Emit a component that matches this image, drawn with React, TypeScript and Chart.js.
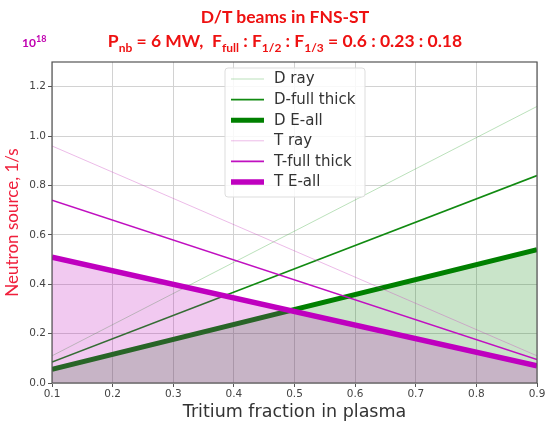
import { useEffect, useRef } from 'react';
import { Chart, registerables, type Plugin } from 'chart.js';

Chart.register(...registerables);

// tritium fraction at both ends of the scan (lines are straight)
const tFraction = [0.1, 0.9];
const dRay = [0.11, 1.12];
const dFullThick = [0.085, 0.84];
const dEAll = [0.055, 0.54];
const tRay = [0.96, 0.11];
const tFullThick = [0.74, 0.095];
const tEAll = [0.51, 0.07];

const xTicks = [0.1, 0.2, 0.3, 0.4, 0.5, 0.6, 0.7, 0.8, 0.9];
const yTicks = [0, 0.2, 0.4, 0.6, 0.8, 1.0, 1.2];

const pts = (ys: number[]) => ys.map((y, i) => ({ x: tFraction[i], y }));

const frameAndLegend: Plugin = {
  id: 'frameAndLegend',
  afterDraw(chart) {
    const { ctx, chartArea: a } = chart;
    ctx.save();
    ctx.strokeStyle = '#555555';
    ctx.lineWidth = 1.2;
    ctx.strokeRect(a.left, a.top, a.right - a.left, a.bottom - a.top);

    // legend box, like matplotlib's upper center
    const boxW = 140, rowH = 20.6, boxH = 129;
    const bx = a.left + (a.right - a.left) / 2 - boxW / 2 + 0.5;
    const by = a.top + 6;
    ctx.fillStyle = 'rgba(255,255,255,0.85)';
    ctx.strokeStyle = '#dddddd';
    ctx.lineWidth = 1;
    ctx.beginPath();
    ctx.roundRect(bx, by, boxW, boxH, 3);
    ctx.fill();
    ctx.stroke();
    ctx.font = '15px "DejaVu Sans"';
    ctx.textBaseline = 'middle';
    chart.data.datasets.forEach((ds: any, i) => {
      const y = by + 11 + i * rowH;
      ctx.strokeStyle = ds.borderColor;
      ctx.lineWidth = ds.borderWidth;
      ctx.beginPath();
      ctx.moveTo(bx + 6, y);
      ctx.lineTo(bx + 39, y);
      ctx.stroke();
      ctx.fillStyle = '#333333';
      ctx.fillText(ds.label, bx + 49, y + 0.5);
    });
    ctx.restore();
  },
};

export default function App() {
  const canvas = useRef<HTMLCanvasElement>(null);
  useEffect(() => {
    document.body.style.margin = '0';
    if (!canvas.current) return;
    const tickFont = { family: '"DejaVu Sans"', size: 10.5 };
    const chart = new Chart(canvas.current, {
      type: 'line',
      data: {
        datasets: [
          { label: 'D ray', data: pts(dRay), borderColor: 'rgba(60,170,60,0.35)', borderWidth: 1, order: 1 },
          { label: 'D-full thick', data: pts(dFullThick), borderColor: '#118a11', borderWidth: 1.6, order: 1 },
          {
            label: 'D E-all', data: pts(dEAll), borderColor: '#008000', borderWidth: 5, order: 1,
            fill: 'origin', backgroundColor: 'rgba(0,128,0,0.21)',
          },
          { label: 'T ray', data: pts(tRay), borderColor: 'rgba(200,60,190,0.35)', borderWidth: 1, order: 0 },
          { label: 'T-full thick', data: pts(tFullThick), borderColor: '#c010c0', borderWidth: 1.6, order: 0 },
          {
            label: 'T E-all', data: pts(tEAll), borderColor: '#bf00bf', borderWidth: 5.5, order: 0,
            fill: 'origin', backgroundColor: 'rgba(191,0,185,0.21)',
          },
        ],
      },
      options: {
        animation: false,
        responsive: false,
        elements: { point: { radius: 0 } },
        layout: { padding: { top: 62, right: 13, left: 0, bottom: 0 } },
        plugins: { legend: { display: false }, tooltip: { enabled: false } },
        scales: {
          x: {
            type: 'linear', min: 0.1, max: 0.9,
            afterFit: (s) => { s.height = 40; },
            afterBuildTicks: (s) => { s.ticks = xTicks.map((v) => ({ value: v })); },
            grid: { color: '#d2d2d2', tickColor: '#555555', tickLength: 4 },
            border: { display: false },
            ticks: { font: tickFont, color: '#444444', padding: 1, maxRotation: 0, callback: (v) => Number(v).toFixed(1) },
            title: {
              display: true, text: 'Tritium fraction in plasma', color: '#333333',
              font: { family: '"DejaVu Sans"', size: 17.5 }, padding: { top: 0, bottom: 0 },
            },
          },
          y: {
            type: 'linear', min: 0, max: 1.3,
            afterFit: (s) => { s.width = 52; },
            afterBuildTicks: (s) => { s.ticks = yTicks.map((v) => ({ value: v })); },
            grid: { color: '#d2d2d2', tickColor: '#555555', tickLength: 4 },
            border: { display: false },
            ticks: { font: tickFont, color: '#444444', padding: 2, callback: (v) => Number(v).toFixed(1) },
            title: {
              display: true, text: 'Neutron source, 1/s', color: '#f0203c',
              font: { family: 'Lato', size: 17 }, padding: { top: 2, bottom: 0 },
            },
          },
        },
      },
      plugins: [frameAndLegend],
    });
    return () => chart.destroy();
  }, []);

  const red = '#ee1111';
  return (
    <div style={{ position: 'relative', width: 550, height: 423, background: '#fff' }}>
      <canvas ref={canvas} width={550} height={423} style={{ position: 'absolute', left: 0, top: 0 }} />
      <div style={{
        position: 'absolute', left: 0, width: 570, top: 5, textAlign: 'center',
        font: 'bold 17.5px Lato', color: red, lineHeight: '24px',
      }}>
        <div>D/T beams in FNS-ST</div>
        <div>
          P<sub style={{ fontSize: 12 }}>nb</sub> = 6 MW,&nbsp; F<sub style={{ fontSize: 12 }}>full</sub> : F
          <sub style={{ fontSize: 12 }}>1/2</sub> : F<sub style={{ fontSize: 12 }}>1/3</sub> = 0.6 : 0.23 : 0.18
        </div>
      </div>
      <div style={{ position: 'absolute', left: 22, top: 33, font: 'bold 12px Lato', color: '#c000b0' }}>
        10<sup style={{ fontSize: 9 }}>18</sup>
      </div>
    </div>
  );
}
